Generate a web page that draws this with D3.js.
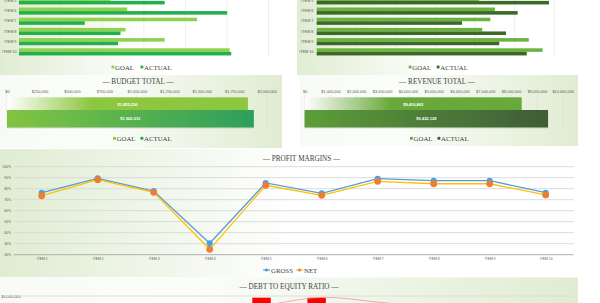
<!DOCTYPE html>
<html><head><meta charset="utf-8">
<script src="https://cdn.jsdelivr.net/npm/d3@7"></script>
<style>body{margin:0;background:#fff}svg{display:block}</style>
</head><body>
<svg id="c" width="600" height="303"></svg>
<script>
// ---------- DATA ----------
const topItems = ["ITEM 5","ITEM 6","ITEM 7","ITEM 8","ITEM 9","ITEM 10"];
const budgetGoal = [110000,130000,214000,128000,175000,253000];
const budgetActual = [175000,250000,79000,122000,119000,255000];
const revenueGoal = [820000,900000,877000,836000,1071000,1141000];
const revenueActual = [1173000,1015000,734000,956000,922000,1061000];
const legendLabels = ["GOAL","ACTUAL"];

const budgetTotalTicks = [0,250000,500000,750000,1000000,1250000,1500000,1750000,2000000];
const budgetTotals = [1855230,1900013];     // goal, actual
const revenueTotalTicks = [0,1000000,2000000,3000000,4000000,5000000,6000000,7000000,8000000,9000000,10000000];
const revenueTotals = [8410863,9432128];    // goal, actual

const items = ["ITEM 1","ITEM 2","ITEM 3","ITEM 4","ITEM 5","ITEM 6","ITEM 7","ITEM 8","ITEM 9","ITEM 10"];
const grossMargin = [76.4,89.4,77.9,30.4,85.2,75.8,89.1,87.3,87.3,76.4];
const netMargin   = [73.6,88.2,76.7,24.9,83.1,74.0,86.7,84.5,84.5,74.3];
const profitTicks = [20,30,40,50,60,70,80,90,100];
const profitLegend = ["GROSS","NET"];

const debtValues   = [2100000,2600000,1900000,3000000,3860000,3850000,2400000,2800000,3100000,2200000];
const equityValues = [1500000,1800000,1400000,2000000,2300000,2400000,1700000,2000000,2100000,1600000];
const ratioValues  = [1.40,1.45,1.30,1.50,2.06,2.43,2.16,1.90,1.60,1.50];
const debtTicks = [4000000];

// ---------- SETUP ----------
const svg = d3.select("#c");
const defs = svg.append("defs");
const SERIF = "'Liberation Serif','DejaVu Serif',serif";
const SANS = "'Liberation Sans',Arial,sans-serif";
const BG = "#e0ecd2";
function hGrad(id, stops){
  const g = defs.append("linearGradient").attr("id",id)
    .attr("x1","0%").attr("x2","100%").attr("y1","0%").attr("y2","0%");
  stops.forEach(([o,c])=>g.append("stop").attr("offset",o).attr("stop-color",c));
}
hGrad("bgL",[["0%",BG],["50%","#ffffff"],["100%","#ffffff"]]);
hGrad("bgR",[["0%","#f8fbf5"],["35%","#fbfdf9"],["100%",BG]]);
hGrad("bGoal",[["0%","#ffffff"],["35%","#8dc63f"],["100%","#8dc63f"]]);
hGrad("bAct",[["0%","#82c441"],["100%","#2c9f5d"]]);
hGrad("rGoal",[["0%","#ffffff"],["40%","#69a83b"],["100%","#69a83b"]]);
hGrad("rAct",[["0%","#5c9d39"],["100%","#3f5c36"]]);
const f = defs.append("filter").attr("id","sh").attr("x","-5%").attr("y","-30%").attr("width","110%").attr("height","160%");
f.append("feDropShadow").attr("dx",0).attr("dy",0.4).attr("stdDeviation",0.7).attr("flood-color","#000").attr("flood-opacity",0.45);

// panels
const panels = [
  [0,-5,283,80,"bgL"],[297,-5,283,80,"bgL"],
  [0,75,282,73,"bgR"],[300,75,278,71,"bgR"],
  [0,149,590,128,"bgL"],[0,277.5,578,30,"bgR"]
];
svg.selectAll("rect.panel").data(panels).join("rect").attr("class","panel")
  .attr("x",d=>d[0]).attr("y",d=>d[1]).attr("width",d=>d[2]).attr("height",d=>d[3])
  .attr("fill",d=>`url(#${d[4]})`);

function title(x,y,t){
  svg.append("text").attr("x",x).attr("y",y).attr("text-anchor","middle")
    .attr("dominant-baseline","central").attr("font-family",SERIF).attr("font-size",7.2)
    .attr("fill","#3c3c3c").text("\u2014 "+t+" \u2014");
}
function legend(x0,y,colors,labels,gap){
  const g = svg.append("g").attr("transform",`translate(${x0},${y})`);
  let x = 0;
  labels.forEach((l,i)=>{
    g.append("rect").attr("x",x).attr("y",-1.4).attr("width",2.8).attr("height",2.8).attr("fill",colors[i]);
    g.append("text").attr("x",x+3.6).attr("y",0).attr("dominant-baseline","central")
      .attr("font-family",SERIF).attr("font-size",6.8).attr("fill","#3c3c3c").text(l);
    x += gap;
  });
}

// ---------- TOP BAR CHARTS ----------
const yTop = d3.scaleBand().domain(topItems).range([-4.23,56.97]).paddingInner(0.3).paddingOuter(0.15);
const hb = yTop.bandwidth()/2;
function itemBars(xs, labelX, goal, actual, cGoal, cAct){
  const g = svg.append("g");
  g.selectAll("line").data(xs.ticks(6)).join("line")
    .attr("x1",d=>xs(d)).attr("x2",d=>xs(d)).attr("y1",-5).attr("y2",57)
    .attr("stroke","#e2e2e2").attr("stroke-width",0.6);
  g.selectAll("rect.g").data(goal).join("rect").attr("class","g")
    .attr("x",xs(0)).attr("y",(d,i)=>yTop(topItems[i])).attr("height",hb)
    .attr("width",d=>xs(d)-xs(0)).attr("fill",cGoal);
  g.selectAll("rect.a").data(actual).join("rect").attr("class","a")
    .attr("x",xs(0)).attr("y",(d,i)=>yTop(topItems[i])+hb).attr("height",hb)
    .attr("width",d=>xs(d)-xs(0)).attr("fill",cAct);
  const ax = g.append("g").attr("transform",`translate(${labelX},0)`)
    .call(d3.axisLeft(yTop).tickSize(0).tickPadding(0));
  ax.select(".domain").remove();
  ax.selectAll("text").attr("font-family",SANS).attr("font-size",3.8).attr("fill","#595959");
}
const xTL = d3.scaleLinear().domain([0,300000]).range([19,268.7]);
itemBars(xTL, 16.5, budgetGoal, budgetActual, "#8fd14f", "#22b04c");
legend(111.5,67,["#8fd14f","#22b04c"],legendLabels,29);
const xTR = d3.scaleLinear().domain([0,1200000]).range([316.7,554.3]);
itemBars(xTR, 313.5, revenueGoal, revenueActual, "#6cb23e", "#3b6a27");
legend(408.7,67,["#6cb23e","#3b6a27"],legendLabels,28);

// ---------- TOTAL BARS ----------
function totals(xs, ticks, vals, gGoal, gAct, tx, legX, legColors){
  const g = svg.append("g");
  title(tx, 82.3, g === null ? "" : (xs.domain()[1] > 5e6 ? "REVENUE TOTAL" : "BUDGET TOTAL"));
  g.selectAll("line").data(ticks).join("line")
    .attr("x1",d=>xs(d)).attr("x2",d=>xs(d)).attr("y1",95).attr("y2",128)
    .attr("stroke","#dadada").attr("stroke-width",0.6);
  const ax = g.append("g").attr("transform","translate(0,92.9)")
    .call(d3.axisTop(xs).tickValues(ticks).tickFormat(d3.format("$,")).tickSize(0).tickPadding(0));
  ax.select(".domain").remove();
  ax.selectAll("text").attr("font-family",SANS).attr("font-size",3.9).attr("fill","#595959");
  const ys = [97.3,110], hs = [14,17.3];
  g.append("rect").attr("x",xs(0)).attr("y",ys[0]).attr("height",hs[0])
    .attr("width",xs(vals[0])-xs(0)).attr("fill",`url(#${gGoal})`);
  g.append("rect").attr("x",xs(0)).attr("y",ys[1]).attr("height",hs[1])
    .attr("width",xs(vals[1])-xs(0)).attr("fill",`url(#${gAct})`).attr("filter","url(#sh)");
  g.selectAll("text.v").data(vals).join("text").attr("class","v")
    .attr("x",d=>(xs(0)+xs(d))/2).attr("y",(d,i)=>i===0?104:118.6)
    .attr("text-anchor","middle").attr("dominant-baseline","central")
    .attr("font-family",SANS).attr("font-weight","bold").attr("font-size",4)
    .attr("fill","#fff").text(d=>d3.format("$,")(d));
  legend(legX,138.3,legColors,legendLabels,27.5);
}
const xB = d3.scaleLinear().domain([0,2000000]).range([7,266.7]);
totals(xB, budgetTotalTicks, budgetTotals, "bGoal","bAct", 138, 113, ["#8dc63f","#249a52"]);
const xR = d3.scaleLinear().domain([0,10000000]).range([304.7,562.7]);
totals(xR, revenueTotalTicks, revenueTotals, "rGoal","rAct", 437, 410, ["#69a83b","#3b5a30"]);

// ---------- PROFIT MARGINS ----------
title(301.5,159,"PROFIT MARGINS");
const xP = d3.scalePoint().domain(items).range([13.7,573.7]).padding(0.5);
const yP = d3.scaleLinear().domain([20,100]).range([254.7,166.7]);
const gp = svg.append("g");
gp.selectAll("line").data(profitTicks).join("line")
  .attr("x1",13.7).attr("x2",573.7).attr("y1",d=>yP(d)).attr("y2",d=>yP(d))
  .attr("stroke",d=>d===20?"#a8a8a8":"#d8d8d8").attr("stroke-width",0.9);
const ayP = gp.append("g").attr("transform","translate(11,0)")
  .call(d3.axisLeft(yP).tickValues(profitTicks).tickFormat(d=>d+"%").tickSize(0).tickPadding(0));
ayP.select(".domain").remove();
ayP.selectAll("text").attr("font-family",SANS).attr("font-size",3.4).attr("fill","#595959");
const axP = gp.append("g").attr("transform","translate(0,257.2)")
  .call(d3.axisBottom(xP).tickSize(0).tickPadding(0));
axP.select(".domain").remove();
axP.selectAll("text").attr("font-family",SANS).attr("font-size",3.4).attr("fill","#595959");
const line = d3.line().x((d,i)=>xP(items[i])).y(d=>yP(d));
const series = [[grossMargin,"#5b9bd5","#3fa3e8",3.0],[netMargin,"#ffc000","#ed7d31",3.4]];
series.forEach(([vals,lc,mc,r])=>{
  gp.append("path").attr("d",line(vals)).attr("fill","none").attr("stroke",lc).attr("stroke-width",1.3);
  gp.append("g").selectAll("circle").data(vals).join("circle")
    .attr("cx",(d,i)=>xP(items[i])).attr("cy",d=>yP(d)).attr("r",r).attr("fill",mc);
});
// legend
const pl = svg.append("g").attr("transform","translate(263,270)");
[[0,"#5b9bd5","#3fa3e8"],[33,"#ffc000","#ed7d31"]].forEach(([x,lc,mc],i)=>{
  pl.append("line").attr("x1",x).attr("x2",x+7).attr("y1",0).attr("y2",0).attr("stroke",lc).attr("stroke-width",1.2);
  pl.append("circle").attr("cx",x+3.5).attr("cy",0).attr("r",1.6).attr("fill",mc);
  pl.append("text").attr("x",x+8).attr("y",0).attr("dominant-baseline","central")
    .attr("font-family",SERIF).attr("font-size",6.8).attr("fill","#3c3c3c").text(profitLegend[i]);
});

// ---------- DEBT TO EQUITY ----------
title(289,287,"DEBT TO EQUITY RATIO");
const xD = d3.scaleBand().domain(items).range([22.8,573.8]).paddingInner(0.33).paddingOuter(0.165);
const yD = d3.scaleLinear().domain([0,4000000]).range([344,296]);
const yD2 = d3.scaleLinear().domain([0,2.5]).range([344,296]);
const gd = svg.append("g");
gd.selectAll("line").data(debtTicks).join("line")
  .attr("x1",22).attr("x2",573).attr("y1",d=>yD(d)).attr("y2",d=>yD(d))
  .attr("stroke","#d8d8d8").attr("stroke-width",0.8);
const ayD = gd.append("g").attr("transform","translate(20.7,0)")
  .call(d3.axisLeft(yD).tickValues(debtTicks).tickFormat(d3.format("$,")).tickSize(0).tickPadding(0));
ayD.select(".domain").remove();
ayD.selectAll("text").attr("font-family",SANS).attr("font-size",3.9).attr("fill","#595959");
const bw = xD.bandwidth()/2;
gd.selectAll("rect.d").data(debtValues).join("rect").attr("class","d")
  .attr("x",(d,i)=>xD(items[i])).attr("width",bw).attr("y",d=>yD(d)).attr("height",d=>yD(0)-yD(d))
  .attr("fill","#ff0000");
gd.selectAll("rect.e").data(equityValues).join("rect").attr("class","e")
  .attr("x",(d,i)=>xD(items[i])+bw).attr("width",bw).attr("y",d=>yD(d)).attr("height",d=>yD(0)-yD(d))
  .attr("fill","#c00000");
gd.append("path").attr("d",d3.line().curve(d3.curveMonotoneX)
    .x((d,i)=>xD(items[i])+xD.bandwidth()/2).y(d=>yD2(d))(ratioValues))
  .attr("fill","none").attr("stroke","#f08a8a").attr("stroke-width",0.7);
</script>
</body></html>
